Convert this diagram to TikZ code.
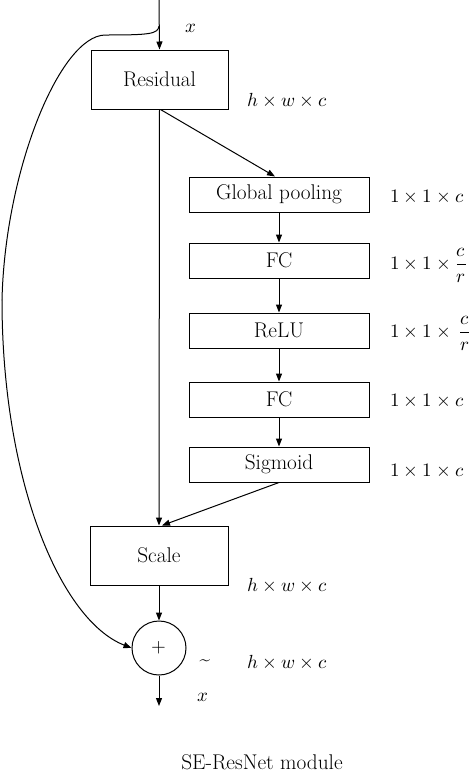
\documentclass[tikz,border=0pt]{standalone}
\usepackage{unicode-math}
\usetikzlibrary{arrows.meta}
\begin{document}
\begin{tikzpicture}[x=1pt,y=1pt,
  every node/.style={font=\fontsize{19}{23}\selectfont},
  txt/.style={font=\fontsize{21.3}{25}\selectfont},
  bigbox/.style={txt,draw,line width=1pt,minimum width=137pt,minimum height=59pt,inner sep=0pt},
  smallbox/.style={txt,draw,line width=1pt,minimum width=180pt,minimum height=35pt,inner sep=0pt},
  conn/.style={line width=1pt,-{Triangle[length=8pt,width=6pt]}},
  lbl/.style={anchor=west,inner sep=0pt}]
\useasboundingbox (0,0) rectangle (474,-777);
% nodes
\node[bigbox] (res) at (159.5,-79.5) {Residual};
\node[smallbox] (gp) at (279,-194.5) {Global pooling};
\node[smallbox] (fc1) at (279,-260.5) {FC};
\node[smallbox] (relu) at (279,-330.5) {ReLU};
\node[smallbox] (fc2) at (279,-399.5) {FC};
\node[smallbox] (sig) at (279,-464.5) {Sigmoid};
\node[bigbox,minimum width=138pt] (scale) at (159,-555.5) {Scale};
\node[draw,circle,line width=1pt,minimum size=54pt,inner sep=0pt] (plus) at (159,-648) {$+$};
\coordinate (top) at (159,0);
\coordinate (split) at (159,-26);
\coordinate (k1) at (105,-35);
\coordinate (k2) at (2,-300);
\coordinate (out) at (159,-706);
% labels
\node (xin) at (191,-28) {$x$};
\node[lbl] (l0) at (247,-100) {$h\times w\times c$};
\node[lbl] (l1) at (390,-196) {$1\times 1\times c$};
\node[lbl] (l2) at (390,-265) {$\displaystyle 1\times 1\times \frac{c}{r}$};
\node[lbl] (l3) at (390,-333) {$\displaystyle 1\times 1\times \,\frac{c}{r}$};
\node[lbl] (l4) at (390,-400) {$1\times 1\times c$};
\node[lbl] (l5) at (390,-470) {$1\times 1\times c$};
\node[lbl] (l6) at (247,-585) {$h\times w\times c$};
\node[lbl] (l7) at (247,-662) {$h\times w\times c$};
\node (tilde) at (205,-663) {\textasciitilde};
\node (xout) at (203,-697) {$x$};
\node[txt] (cap) at (262,-762) {SE-ResNet module};
% connectors
\draw[conn] (top) -- (res.north);
\draw[conn] (res.south) -- (scale.north);
\draw[conn] ([xshift=1pt]res.south) -- ([xshift=-4pt]gp.north);
\draw[conn] (gp) -- (fc1);
\draw[conn] (fc1) -- (relu);
\draw[conn] (relu) -- (fc2);
\draw[conn] (fc2) -- (sig);
\draw[conn] (sig.south) -- ([xshift=3pt]scale.north);
\draw[conn] (scale) -- (plus);
\draw[conn] (plus) -- (out);
\draw[conn] (split) .. controls (158,-34) and (150,-35) .. (k1)
  .. controls (60,-36) and (5,-170) .. (k2)
  .. controls (2,-480) and (60,-620) .. (plus.west);
\end{tikzpicture}
\end{document}
